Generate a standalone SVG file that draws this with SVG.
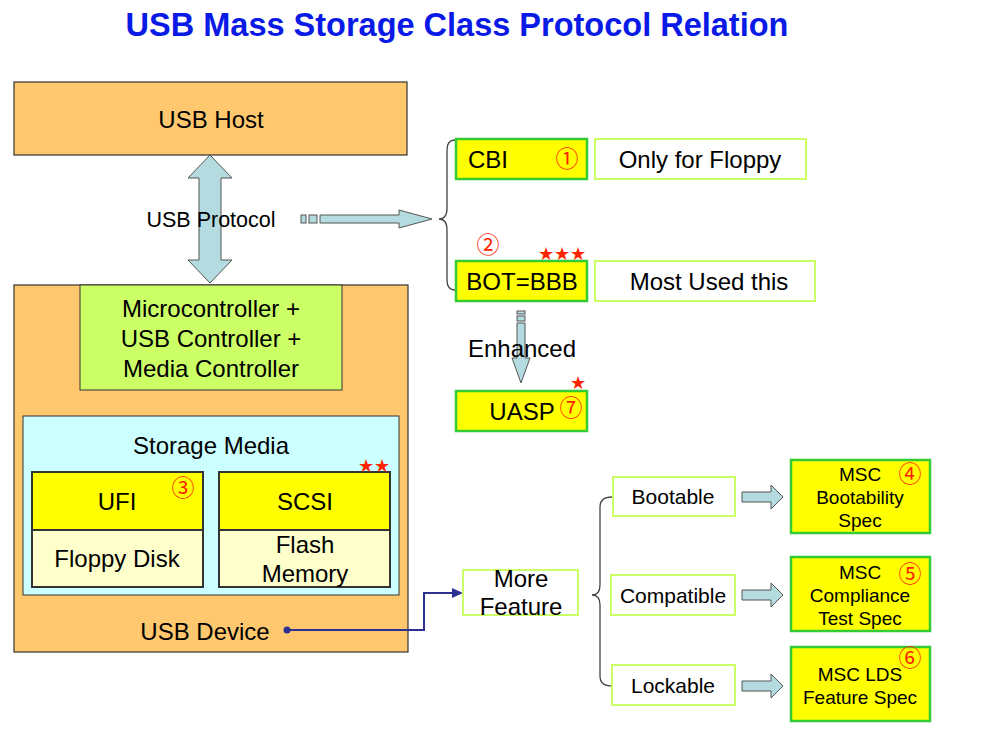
<svg xmlns="http://www.w3.org/2000/svg" width="993" height="733" viewBox="0 0 993 733">
<style>
text{font-family:"Liberation Sans",Arial,sans-serif;fill:#000;text-anchor:middle}
.or{fill:#FFC86E;stroke:#333;stroke-width:1.2}
.ye{fill:#FFFF00;stroke:#33CC33;stroke-width:2.5}
.wh{fill:#fff;stroke:#CCFF66;stroke-width:2}
.ar{fill:#B4DCE0;stroke:#555;stroke-width:1}
.t{font-size:24px}
.b{font-size:21px}
.s{font-size:19px}
.r{fill:#FF2200;font-family:"Liberation Serif","Noto Sans CJK SC",serif;font-size:23px}
.st{fill:#FF2200;font-size:18px}
.br{fill:none;stroke:#444;stroke-width:1.3}
</style>
<rect width="993" height="733" fill="#fff"/>
<text x="457" y="36" style="font-size:32.5px;font-weight:bold;fill:#0A1AE6">USB Mass Storage Class Protocol Relation</text>
<g id="host"><rect class="or" x="14" y="82" width="393" height="73"/><text class="t" x="211" y="128">USB Host</text></g>
<g id="device">
<rect class="or" x="14" y="285" width="394" height="367"/>
<rect x="80" y="285" width="262" height="105" fill="#CCFF66" stroke="#333"/>
<text class="t" x="211" y="317">Microcontroller +</text><text class="t" x="211" y="347">USB Controller +</text><text class="t" x="211" y="377">Media Controller</text>
<rect x="23" y="416" width="376" height="179" fill="#CCFFFF" stroke="#333"/>
<text class="t" x="211" y="454">Storage Media</text>
<rect x="32" y="472" width="171" height="58" fill="#FFFF00" stroke="#333" stroke-width="2"/>
<rect x="32" y="530" width="171" height="57" fill="#FFFFCC" stroke="#333" stroke-width="2"/>
<rect x="219" y="472" width="171" height="58" fill="#FFFF00" stroke="#333" stroke-width="2"/>
<rect x="219" y="530" width="171" height="57" fill="#FFFFCC" stroke="#333" stroke-width="2"/>
<text class="t" x="117" y="510">UFI</text><text class="r" x="183" y="496">③</text>
<text class="t" x="117" y="567">Floppy Disk</text>
<text class="t" x="305" y="510">SCSI</text><text class="st" x="374" y="472">★★</text>
<text class="t" x="305" y="553">Flash</text><text class="t" x="305" y="582">Memory</text>
<text class="t" x="205" y="640">USB Device</text>
</g>
<g id="connectors">
<path class="ar" d="M210,155 L232,178 L221,178 L221,260 L232,260 L210,283 L188,260 L199,260 L199,178 L188,178 Z"/>
<text x="211" y="227" style="font-size:21.5px">USB Protocol</text>
<rect class="ar" x="301" y="215" width="5" height="8"/><rect class="ar" x="309" y="215" width="8" height="8"/>
<path class="ar" d="M320,215 L399,215 L399,210 L432,219 L399,228 L399,223 L320,223 Z"/>
<path class="br" d="M455,140 Q447,140 447,150 L447,208 Q447,219 439,219 Q447,219 447,230 L447,280 Q447,290 455,290"/>
<rect class="ar" x="517" y="311" width="8" height="3"/><rect class="ar" x="517" y="316" width="8" height="5"/>
<path class="ar" d="M517,323 L525,323 L525,358 L530,358 L521,383 L512,358 L517,358 Z"/>
<text class="t" x="522" y="357">Enhanced</text>
<path class="br" d="M612,497 Q600,497 600,507 L600,585 Q600,595 592,595 Q600,595 600,605 L600,676 Q600,686 612,686"/>
<path class="ar" d="M742,492 L771,492 L771,485 L783,497 L771,509 L771,502 L742,502 Z"/>
<path class="ar" d="M742,590 L771,590 L771,583 L783,595 L771,607 L771,600 L742,600 Z"/>
<path class="ar" d="M742,681 L771,681 L771,674 L783,686 L771,698 L771,691 L742,691 Z"/>
<circle cx="287" cy="630" r="3.5" fill="#2E3192"/>
<path d="M287,630 L424,630 L424,593 L455,593" fill="none" stroke="#2E3192" stroke-width="2"/>
<path d="M463,593 L452,588 L452,598 Z" fill="#2E3192"/>
</g>
<g id="cbi"><rect class="ye" x="456" y="139" width="131" height="40"/><text class="t" x="488" y="168">CBI</text><text class="r" x="567" y="167">①</text></g>
<g id="floppy"><rect class="wh" x="595" y="139" width="211" height="40"/><text class="t" x="700" y="168">Only for Floppy</text></g>
<g id="bot"><rect class="ye" x="456" y="261" width="131" height="40"/><text class="t" x="522" y="290">BOT=BBB</text><text class="r" x="488" y="253">②</text><text class="st" x="562" y="260">★★★</text></g>
<g id="most"><rect class="wh" x="595" y="261" width="220" height="40"/><text class="t" x="709" y="290">Most Used this</text></g>
<g id="uasp"><rect class="ye" x="456" y="391" width="131" height="40"/><text class="t" x="522" y="420">UASP</text><text class="r" x="571" y="416">⑦</text><text class="st" x="578" y="389">★</text></g>
<g id="more"><rect class="wh" x="463" y="570" width="115" height="45"/><text class="t" x="521" y="587">More</text><text class="t" x="521" y="615">Feature</text></g>
<g id="bootable"><rect class="wh" x="613" y="477" width="122" height="39"/><text class="b" x="673" y="504">Bootable</text></g>
<g id="compatible"><rect class="wh" x="611" y="575" width="124" height="40"/><text class="b" x="673" y="603">Compatible</text></g>
<g id="lockable"><rect class="wh" x="612" y="665" width="123" height="40"/><text class="b" x="673" y="693">Lockable</text></g>
<g id="msc4"><rect class="ye" x="791" y="460" width="139" height="73"/><text class="s" x="860" y="481">MSC</text><text class="s" x="860" y="504">Bootability</text><text class="s" x="860" y="527">Spec</text><text class="r" x="910" y="482">④</text></g>
<g id="msc5"><rect class="ye" x="791" y="557" width="139" height="74"/><text class="s" x="860" y="579">MSC</text><text class="s" x="860" y="602">Compliance</text><text class="s" x="860" y="625">Test Spec</text><text class="r" x="910" y="582">⑤</text></g>
<g id="msc6"><rect class="ye" x="791" y="647" width="139" height="74"/><text class="s" x="860" y="681">MSC LDS</text><text class="s" x="860" y="704">Feature Spec</text><text class="r" x="910" y="666">⑥</text></g>
</svg>
